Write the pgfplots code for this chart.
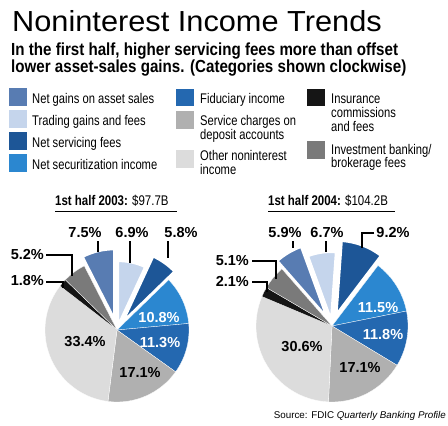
\documentclass[border=0pt]{standalone}
\usepackage{pgfplots}
\pgfplotsset{compat=1.18}
\usepackage{pgfplotstable}
\usepackage{fontspec}
\setmainfont{Liberation Sans}
\newfontfamily\titlefont[FakeStretch=1.06]{Liberation Sans}
\newfontfamily\condfont[FakeStretch=0.80]{Liberation Sans}
\newfontfamily\subfont[FakeStretch=0.865]{Liberation Sans}
\newfontfamily\ptfont[FakeStretch=0.82]{Liberation Sans}

\definecolor{cNetg}{HTML}{587CB2}
\definecolor{cTrad}{HTML}{C5D5EC}
\definecolor{cServ}{HTML}{1D5697}
\definecolor{cSecu}{HTML}{2B87D0}
\definecolor{cFidu}{HTML}{2468B0}
\definecolor{cChar}{HTML}{B0B0B0}
\definecolor{cOthr}{HTML}{DCDCDC}
\definecolor{cInsu}{HTML}{151515}
\definecolor{cInvb}{HTML}{7A7A7A}

% 1st half 2003 (clockwise from 12 o'clock)
\pgfplotstableread{
val  col    expl rad bw
6.9  cTrad  5    64  2.0
5.8  cServ  11   71  2.0
10.8 cSecu  0    72  0.3
11.3 cFidu  0    72  0.3
17.1 cChar  0    72  0.3
33.4 cOthr  0    72  0.3
1.8  cInsu  0    72  0.3
5.2  cInvb  0    72  0.3
7.5  cNetg  12   69  2.0
}\pieA

% 1st half 2004
\pgfplotstableread{
val  col    expl rad bw
6.7  cTrad  7    67  2.0
9.2  cServ  13   73  2.0
11.5 cSecu  0    76  0.3
11.8 cFidu  0    76  0.3
17.1 cChar  0    76  0.3
30.6 cOthr  0    76  0.3
2.1  cInsu  0    76  0.3
5.1  cInvb  0    76  0.3
5.9  cNetg  11   74  2.0
}\pieB

\newcommand{\drawpie}[5]{%
  \pgfplotstablegetrowsof{#1}%
  \pgfmathtruncatemacro{\nrows}{\pgfplotsretval-1}%
  \xdef\piecum{#4}%
  \foreach \i in {0,...,\nrows}{%
    \pgfplotstablegetelem{\i}{val}\of{#1}\let\pv\pgfplotsretval
    \pgfplotstablegetelem{\i}{col}\of{#1}\let\pc\pgfplotsretval
    \pgfplotstablegetelem{\i}{expl}\of{#1}\let\pe\pgfplotsretval
    \pgfplotstablegetelem{\i}{rad}\of{#1}\let\pr\pgfplotsretval
    \pgfplotstablegetelem{\i}{bw}\of{#1}\let\pb\pgfplotsretval
    \pgfmathsetmacro{\aS}{90-\piecum}%
    \pgfmathsetmacro{\aE}{\aS-\pv/#5*360}%
    \pgfmathsetmacro{\aM}{(\aS+\aE)/2}%
    \fill[fill=\pc, draw=white, line width=\pb pt, line join=round]
      (axis cs:#2,#3) ++(\aM:\pe pt) -- ++(\aS:\pr pt)
      arc[start angle=\aS, end angle=\aE, radius=\pr pt] -- cycle;
    \pgfmathsetmacro{\newcum}{\piecum+\pv/#5*360}%
    \xdef\piecum{\newcum}%
  }%
}

\tikzset{
  pl/.style={font=\fontsize{14.5}{14.5}\selectfont\bfseries, inner sep=0pt},
  lg/.style={font=\fontsize{14}{14}\condfont, inner sep=0pt, anchor=base west},
  ld/.style={black, line width=1.1pt},
}

\begin{document}
\begin{tikzpicture}
\begin{axis}[
  x=1pt, y=1pt, xmin=0, xmax=448, ymin=0, ymax=426,
  y dir=reverse, hide axis, clip=false, scale only axis,
]
\path (axis cs:0,0) rectangle (axis cs:448,426);

% title and subtitle
\node[anchor=base west, inner sep=0pt, font=\fontsize{29}{29}\titlefont] at (axis cs:12,31) {Noninterest Income Trends};
\node[anchor=base west, inner sep=0pt, font=\fontsize{17.5}{17.5}\subfont\bfseries] at (axis cs:11,55) {In the first half, higher servicing fees more than offset};
\node[anchor=base west, inner sep=0pt, font=\fontsize{17.5}{17.5}\subfont\bfseries] at (axis cs:11,72.5) {lower asset-sales gains. (Categories shown clockwise)};

% legend
\fill[cNetg] (axis cs:9,88) rectangle (axis cs:27,106);
\fill[cTrad] (axis cs:9,110) rectangle (axis cs:27,128);
\fill[cServ] (axis cs:9,132) rectangle (axis cs:27,150);
\fill[cSecu] (axis cs:9,154) rectangle (axis cs:27,172);
\node[lg] at (axis cs:32,103) {Net gains on asset sales};
\node[lg] at (axis cs:32,125) {Trading gains and fees};
\node[lg] at (axis cs:32,147) {Net servicing fees};
\node[lg] at (axis cs:32,169) {Net securitization income};

\fill[cFidu] (axis cs:176,89) rectangle (axis cs:194,106);
\fill[cChar] (axis cs:176,111) rectangle (axis cs:194,129);
\fill[cOthr] (axis cs:176,150) rectangle (axis cs:194,168);
\node[lg] at (axis cs:200,103) {Fiduciary income};
\node[lg] at (axis cs:200,125.5) {Service charges on};
\node[lg] at (axis cs:200,139.5) {deposit accounts};
\node[lg] at (axis cs:200,160.5) {Other noninterest};
\node[lg] at (axis cs:200,174.5) {income};

\fill[cInsu] (axis cs:307,89) rectangle (axis cs:325,106);
\fill[cInvb] (axis cs:307,141) rectangle (axis cs:325,159);
\node[lg] at (axis cs:331,103) {Insurance};
\node[lg] at (axis cs:331,117) {commissions};
\node[lg] at (axis cs:331,131) {and fees};
\node[lg] at (axis cs:331,154) {Investment banking/};
\node[lg] at (axis cs:331,167.5) {brokerage fees};

% pie titles
\node[anchor=base west, inner sep=0pt, font=\fontsize{14}{14}\ptfont] at (axis cs:55,205) {\bfseries 1st half 2003: \mdseries\$97.7B};
\draw[black, line width=1pt] (axis cs:55,211) -- (axis cs:177,211);
\node[anchor=base west, inner sep=0pt, font=\fontsize{14}{14}\ptfont] at (axis cs:268,205) {\bfseries 1st half 2004: \mdseries\$104.2B};
\draw[black, line width=1pt] (axis cs:268,211) -- (axis cs:395,211);

% pies
\pgfplotsextra{\drawpie{\pieA}{117}{330}{0}{99.8}}
\pgfplotsextra{\drawpie{\pieB}{332}{326}{-20}{100}}

% 2003 labels
\node[pl] at (axis cs:85,233) {7.5\%};
\node[pl] at (axis cs:132,233) {6.9\%};
\node[pl] at (axis cs:181,233) {5.8\%};
\node[pl, anchor=east] at (axis cs:44,255) {5.2\%};
\node[pl, anchor=east] at (axis cs:44,281) {1.8\%};
\draw[ld] (axis cs:98,241) -- (axis cs:98,252);
\draw[ld] (axis cs:130,241) -- (axis cs:130,263);
\draw[ld] (axis cs:168,241) -- (axis cs:168,258);
\draw[ld] (axis cs:46,255) -- (axis cs:72,255) -- (axis cs:72,276);
\draw[ld] (axis cs:46,282) -- (axis cs:63,282) -- (axis cs:63,288);
\node[pl, white] at (axis cs:159,318) {10.8\%};
\node[pl, white] at (axis cs:160,343) {11.3\%};
\node[pl] at (axis cs:85,342) {33.4\%};
\node[pl] at (axis cs:140,373) {17.1\%};

% 2004 labels
\node[pl] at (axis cs:285,233) {5.9\%};
\node[pl] at (axis cs:327,233) {6.7\%};
\node[pl] at (axis cs:393,233) {9.2\%};
\node[pl, anchor=east] at (axis cs:249,261) {5.1\%};
\node[pl, anchor=east] at (axis cs:249,281) {2.1\%};
\draw[ld] (axis cs:293,241) -- (axis cs:293,248);
\draw[ld] (axis cs:326,241) -- (axis cs:326,252);
\draw[ld] (axis cs:374,233) -- (axis cs:362,233) -- (axis cs:362,248);
\draw[ld] (axis cs:252,261) -- (axis cs:276,261) -- (axis cs:276,279);
\draw[ld] (axis cs:252,282) -- (axis cs:267,282) -- (axis cs:267,292);
\node[pl, white] at (axis cs:378,308) {11.5\%};
\node[pl, white] at (axis cs:383,335) {11.8\%};
\node[pl] at (axis cs:302,347) {30.6\%};
\node[pl] at (axis cs:360,368) {17.1\%};

% source
\node[anchor=base east, inner sep=0pt, font=\fontsize{9.8}{9.8}\selectfont] at (axis cs:446,418) {Source: FDIC \textit{Quarterly Banking Profile}};
\end{axis}
\end{tikzpicture}
\end{document}
